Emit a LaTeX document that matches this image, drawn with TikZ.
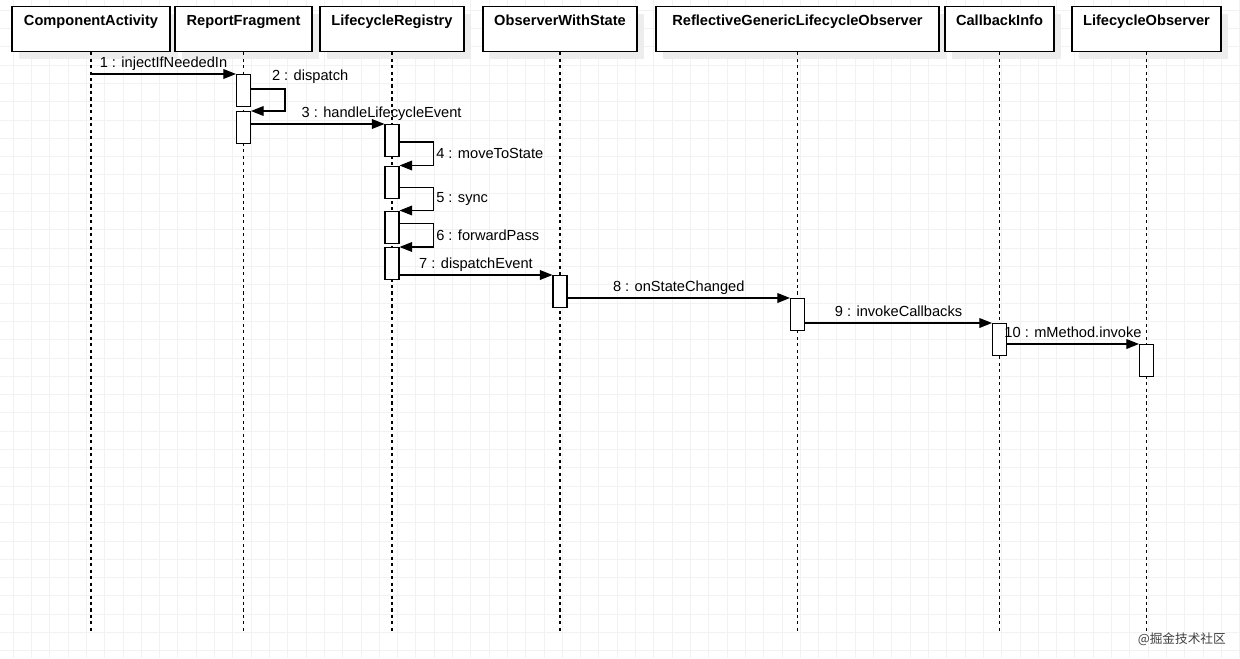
\documentclass[tikz,border=0pt]{standalone}
\usepackage{fontspec}
\setmainfont{Liberation Sans}
\newfontfamily\cjkfont{Noto Sans CJK SC}
\usepackage{tikz}
\usetikzlibrary{arrows.meta, shadows}
\tikzset{>={Triangle[length=9pt, width=7pt]}}
\tikzset{
  header/.style={draw, line width=0.8pt, fill=white, anchor=north, minimum height=1.125cm,
    inner xsep=2pt, inner ysep=4pt, text height=9.5pt, text depth=14.4pt,
    font=\fontsize{10.4}{12}\selectfont\bfseries,
    drop shadow={shadow xshift=0.175cm, shadow yshift=-0.175cm, fill=black!7, opacity=1}},
  activation/.style={draw, line width=0.8pt, fill=white, anchor=north,
    minimum width=0.35cm, minimum height=0.8cm, inner sep=0pt},
  lifeline/.style={line width=1pt, dash pattern=on 2.2pt off 2.4pt},
  msg/.style={->, line width=0.85pt},
  msglabel/.style={font=\fontsize{10.4}{12}\selectfont, anchor=base, yshift=4.6pt, inner sep=0pt},
  selflabel/.style={font=\fontsize{10.4}{12}\selectfont, anchor=west, inner sep=1.5pt},
  gridline/.style={black!5, line width=0.4pt, step=0.4575cm}
}

\begin{document}
\begin{tikzpicture}[x=0.025cm, y=-0.025cm]
\useasboundingbox (0,0) rectangle (1240,658);
\fill[white] (0,0) rectangle (1240,658);
\begin{scope}[shift={(13,10)}]
\draw[gridline] (-13,-10) grid (1227,648);
\end{scope}

% participants
\node[header, minimum width=3.95cm] (ca) at (91,6) {ComponentActivity};
\node[header, minimum width=3.425cm] (rf) at (243.5,6) {ReportFragment};
\node[header, minimum width=3.6cm] (lr) at (392,6) {LifecycleRegistry};
\node[header, minimum width=3.85cm] (ows) at (560,6) {ObserverWithState};
\node[header, minimum width=7.075cm] (rglo) at (797.5,6) {ReflectiveGenericLifecycleObserver};
\node[header, minimum width=2.725cm] (ci) at (999.5,6) {CallbackInfo};
\node[header, minimum width=3.725cm] (lo) at (1146.5,6) {LifecycleObserver};

% lifelines
\coordinate (bottom) at (0,632);
\foreach \n in {ca,rf,lr,ows,rglo,ci,lo}
  \draw[lifeline] (\n.south) -- (\n.south |- bottom);

% activations
\node[activation] (rf1) at (243.5,74) {};
\node[activation] (rf2) at (243.5,111) {};
\node[activation] (lr1) at (392,124) {};
\node[activation] (lr2) at (392,165.5) {};
\node[activation] (lr3) at (392,210.5) {};
\node[activation] (lr4) at (392,247) {};
\node[activation] (ows1) at (560,275) {};
\node[activation] (rglo1) at (797.5,298) {};
\node[activation] (ci1) at (999.5,323) {};
\node[activation] (lo1) at (1146.5,344) {};

% messages
\draw[msg] (ca.south |- rf1.north) -- node[msglabel] {1 : injectIfNeededIn} (rf1.north west);
\draw[msg] ([yshift=-0.375cm]rf1.north east) -- node[msglabel, pos=0.6, anchor=base west, yshift=1.1pt] {2 : dispatch} ++(34,0) |- (rf2.north east);
\draw[msg] (rf2.east |- lr1.north west) -- node[msglabel, pos=0, anchor=base west, xshift=1.25cm] {3 : handleLifecycleEvent} (lr1.north west);
\draw[msg] ([yshift=-0.45cm]lr1.north east) -- ++(34,0) |- node[selflabel, pos=0.25] {4 : moveToState} (lr2.north east);
\draw[msg] ([yshift=-0.55cm]lr2.north east) -- ++(34,0) |- node[selflabel, pos=0.25] {5 : sync} (lr3.north east);
\draw[msg] ([yshift=-0.33cm]lr3.north east) -- ++(34,0) |- node[selflabel, pos=0.25] {6 : forwardPass} (lr4.north east);
\draw[msg] (lr4.east |- ows1.north west) -- node[msglabel] {7 : dispatchEvent} (ows1.north west);
\draw[msg] (ows1.east |- rglo1.north west) -- node[msglabel] {8 : onStateChanged} (rglo1.north west);
\draw[msg] (rglo1.east |- ci1.north west) -- node[msglabel] {9 : invokeCallbacks} (ci1.north west);
\draw[msg] (ci1.east |- lo1.north west) -- node[msglabel] {10 : mMethod.invoke} (lo1.north west);

\node[font=\cjkfont\fontsize{9}{10}\selectfont, text=black!75, anchor=east, inner sep=0pt] (mark) at (1226,639) {@掘金技术社区};
\end{tikzpicture}
\end{document}
